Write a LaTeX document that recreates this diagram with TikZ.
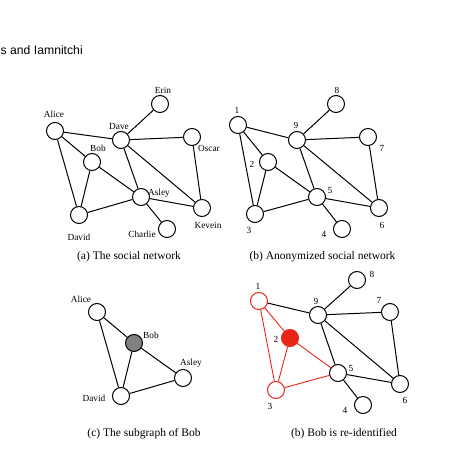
\documentclass[tikz,border=0pt]{standalone}
\usepackage{fontspec}
\setmainfont{Liberation Serif}
\newfontfamily\hdrfont{Liberation Sans}
\definecolor{redc}{RGB}{232,38,24}
\definecolor{bobgray}{RGB}{128,128,128}
\begin{document}
\begin{tikzpicture}[x=1pt,y=-1pt,
  vtx/.style={circle,draw,line width=1pt,minimum size=17pt,inner sep=0pt,fill=white},
  edge/.style={line width=1pt},
  redge/.style={line width=0.9pt,draw=redc},
  lbl/.style={inner sep=0pt,font=\fontsize{9.3}{9.3}\selectfont},
  captext/.style={inner sep=0pt,font=\fontsize{11.5}{12}\selectfont}]
\useasboundingbox (0,0) rectangle (474,450);
\node[inner sep=0pt,anchor=base west,font=\hdrfont\fontsize{12.2}{12.2}\selectfont] (hdr) at (0.5,54) {s and Iamnitchi};

% (a)
\begin{scope}
\node[vtx] (aAlice) at (55,131) {};
\node[vtx] (aDave) at (121,140) {};
\node[vtx] (aErin) at (160,104) {};
\node[vtx] (aOscar) at (192,137) {};
\node[vtx] (aBob) at (92,162) {};
\node[vtx] (aAsley) at (141,197) {};
\node[vtx] (aKevein) at (202,208) {};
\node[vtx] (aDavid) at (79,215) {};
\node[vtx] (aCharlie) at (167,229) {};
\draw[edge] (aAlice)--(aDave) (aAlice)--(aBob) (aAlice)--(aDavid) (aBob)--(aDavid)
  (aBob)--(aAsley) (aDave)--(aErin) (aDave)--(aOscar) (aDave)--(aAsley) (aDave)--(aKevein)
  (aOscar)--(aKevein) (aAsley)--(aKevein) (aAsley)--(aDavid) (aAsley)--(aCharlie);
\node[lbl] (laAlice) at (54,114) {Alice};
\node[lbl] (laDave) at (119,126) {Dave};
\node[lbl] (laErin) at (163,90) {Erin};
\node[lbl] (laOscar) at (209,148) {Oscar};
\node[lbl] (laBob) at (98,148) {Bob};
\node[lbl] (laAsley) at (159,193) {Asley};
\node[lbl] (laKevein) at (208,225) {Kevein};
\node[lbl] (laDavid) at (79,237) {David};
\node[lbl] (laCharlie) at (142,234) {Charlie};
\node[captext] (capa) at (129,257) {(a) The social network};
\end{scope}

% (b)
\begin{scope}
\node[vtx] (b1) at (238,125) {};
\node[vtx] (b9) at (297,140) {};
\node[vtx] (b8) at (336,104) {};
\node[vtx] (b7) at (368,137) {};
\node[vtx] (b2) at (268,162) {};
\node[vtx] (b5) at (317,197) {};
\node[vtx] (b6) at (379,208) {};
\node[vtx] (b3) at (255,214) {};
\node[vtx] (b4) at (342,229) {};
\draw[edge] (b1)--(b9) (b1)--(b2) (b1)--(b3) (b2)--(b3) (b2)--(b5) (b9)--(b8) (b9)--(b7)
  (b9)--(b5) (b9)--(b6) (b7)--(b6) (b5)--(b6) (b5)--(b3) (b5)--(b4);
\node[lbl] (lb1) at (237,110) {1};
\node[lbl] (lb9) at (296,125) {9};
\node[lbl] (lb8) at (337,90) {8};
\node[lbl] (lb7) at (382,148) {7};
\node[lbl] (lb2) at (252,164) {2};
\node[lbl] (lb5) at (330,190) {5};
\node[lbl] (lb6) at (382,225) {6};
\node[lbl] (lb3) at (249,230) {3};
\node[lbl] (lb4) at (324,234) {4};
\node[captext] (capb) at (322.5,257) {(b) Anonymized social network};
\end{scope}

% (c)
\begin{scope}
\node[vtx] (cAlice) at (97,312) {};
\node[vtx,fill=bobgray] (cBob) at (134,343) {};
\node[vtx] (cAsley) at (183,378) {};
\node[vtx] (cDavid) at (121,396) {};
\draw[edge] (cAlice)--(cBob) (cAlice)--(cDavid) (cBob)--(cDavid) (cBob)--(cAsley) (cAsley)--(cDavid);
\node[lbl] (lcAlice) at (81,299) {Alice};
\node[lbl] (lcBob) at (151,335) {Bob};
\node[lbl] (lcAsley) at (191,363) {Asley};
\node[lbl] (lcDavid) at (94,398) {David};
\node[captext] (capc) at (144,434) {(c) The subgraph of Bob};
\end{scope}

% (d)
\begin{scope}
\node[vtx,draw=redc] (d1) at (259,301) {};
\node[vtx] (d9) at (318,315) {};
\node[vtx] (d8) at (357,280) {};
\node[vtx] (d7) at (390,312) {};
\node[vtx,draw=redc,fill=redc] (d2) at (290,338) {};
\node[vtx] (d5) at (338,373) {};
\node[vtx] (d6) at (400,384) {};
\node[vtx,draw=redc] (d3) at (276,390) {};
\node[vtx] (d4) at (363,405) {};
\draw[edge] (d1)--(d9) (d9)--(d8) (d9)--(d7) (d9)--(d5) (d9)--(d6) (d7)--(d6) (d5)--(d6) (d5)--(d4);
\draw[redge] (d1)--(d2) (d1)--(d3) (d2)--(d3) (d2)--(d5) (d3)--(d5);
\node[lbl] (ld1) at (258,286) {1};
\node[lbl] (ld9) at (316,301) {9};
\node[lbl] (ld8) at (372,274) {8};
\node[lbl] (ld7) at (379,300) {7};
\node[lbl] (ld2) at (276,339) {2};
\node[lbl] (ld5) at (351,368) {5};
\node[lbl] (ld6) at (405,400) {6};
\node[lbl] (ld3) at (270,406) {3};
\node[lbl] (ld4) at (345,410) {4};
\node[captext] (capd) at (344,434) {(b) Bob is re-identified};
\end{scope}
\end{tikzpicture}
\end{document}
